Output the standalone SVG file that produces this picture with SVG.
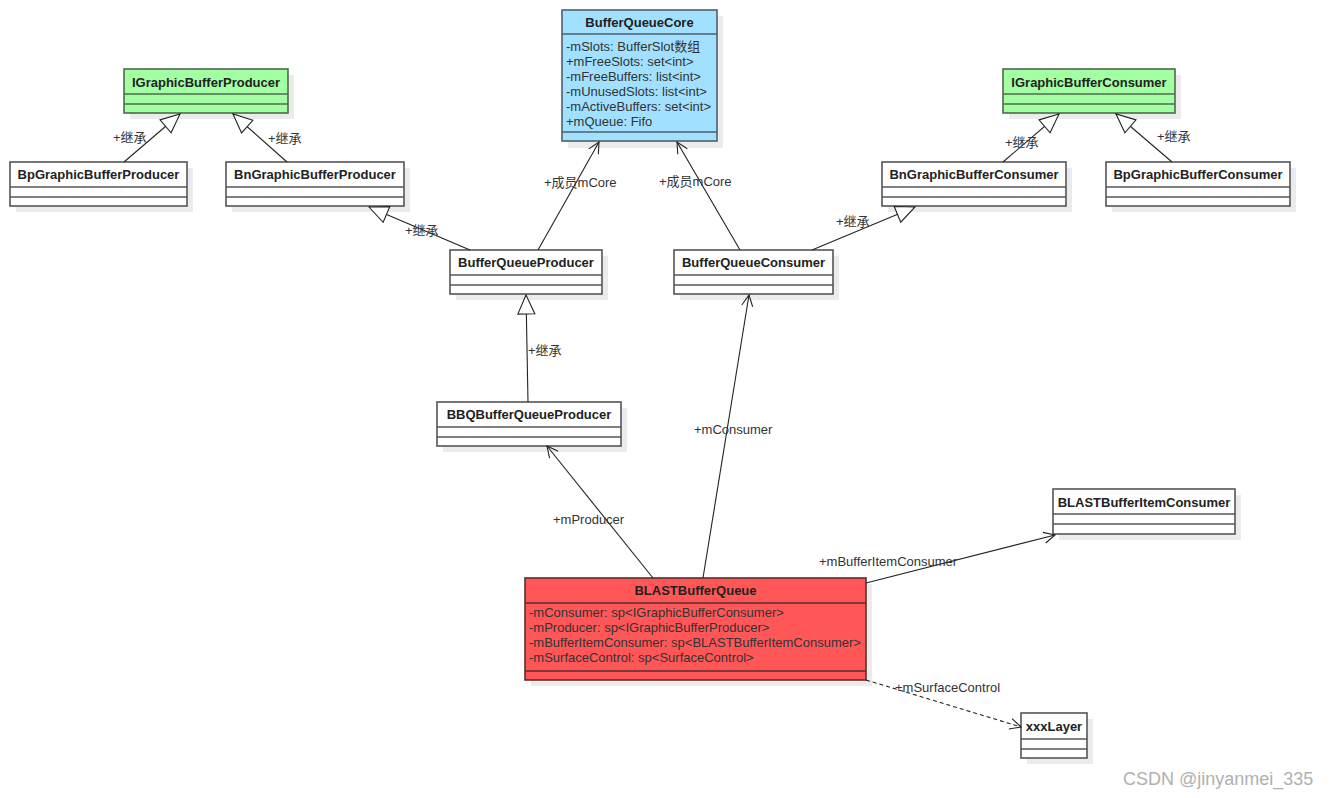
<svg xmlns="http://www.w3.org/2000/svg" width="1330" height="798" viewBox="0 0 1330 798">
<style>
text{font-family:"Liberation Sans","Noto Sans CJK SC",sans-serif;}
.sh{fill:#ebebeb;}
.box{fill:#ffffff;stroke:#555;stroke-width:1.6;}
.div{stroke:#555;stroke-width:1.6;}
.t{font-size:13px;font-weight:bold;fill:#222;text-anchor:middle;}
.a{font-size:13px;fill:#333;}
.lbl{font-size:13px;fill:#333;}
.ln{fill:none;stroke:#222;stroke-width:1.1;}
.dash{stroke-dasharray:4,3;}
.tri{fill:#fff;stroke:#222;stroke-width:1.1;}
.arr{fill:none;stroke:#222;stroke-width:1.1;}
</style>
<defs>
<path id="triHead" d="M0,0 L-19,-8.5 L-19,8.5 Z"/>
<path id="openHead" d="M-11,-5.5 L0,0 L-11,5.5"/>
</defs>
<g id="BufferQueueCore">
<rect class="sh" x="568" y="16" width="155" height="132"/>
<rect class="box" x="562" y="10" width="155" height="131" style="fill:#a2e0ff;stroke:#4f5f6a"/>
<line class="div" x1="562" y1="34" x2="717" y2="34" style="stroke:#4f5f6a"/>
<line class="div" x1="562" y1="132" x2="717" y2="132" style="stroke:#4f5f6a"/>
<text class="t" x="639.5" y="27">BufferQueueCore</text>
<text class="a" x="566" y="51">-mSlots: BufferSlot数组</text>
<text class="a" x="566" y="66">+mFreeSlots: set&lt;int&gt;</text>
<text class="a" x="566" y="81">-mFreeBuffers: list&lt;int&gt;</text>
<text class="a" x="566" y="96">-mUnusedSlots: list&lt;int&gt;</text>
<text class="a" x="566" y="111">-mActiveBuffers: set&lt;int&gt;</text>
<text class="a" x="566" y="126">+mQueue: Fifo</text>
</g>
<g id="IGraphicBufferProducer">
<rect class="sh" x="130" y="75" width="164" height="44"/>
<rect class="box" x="124" y="69" width="164" height="44" style="fill:#a2ffa2;stroke:#4f6a4f"/>
<line class="div" x1="124" y1="94" x2="288" y2="94" style="stroke:#4f6a4f"/>
<line class="div" x1="124" y1="104" x2="288" y2="104" style="stroke:#4f6a4f"/>
<text class="t" x="206" y="87">IGraphicBufferProducer</text>
</g>
<g id="IGraphicBufferConsumer">
<rect class="sh" x="1009" y="75" width="172" height="44"/>
<rect class="box" x="1003" y="69" width="172" height="44" style="fill:#a2ffa2;stroke:#4f6a4f"/>
<line class="div" x1="1003" y1="94" x2="1175" y2="94" style="stroke:#4f6a4f"/>
<line class="div" x1="1003" y1="104" x2="1175" y2="104" style="stroke:#4f6a4f"/>
<text class="t" x="1089" y="87">IGraphicBufferConsumer</text>
</g>
<g id="BpGraphicBufferProducer">
<rect class="sh" x="16" y="168" width="177" height="44"/>
<rect class="box" x="10" y="162" width="177" height="44"/>
<line class="div" x1="10" y1="187" x2="187" y2="187"/>
<line class="div" x1="10" y1="197" x2="187" y2="197"/>
<text class="t" x="98.5" y="179">BpGraphicBufferProducer</text>
</g>
<g id="BnGraphicBufferProducer">
<rect class="sh" x="232" y="168" width="178" height="44"/>
<rect class="box" x="226" y="162" width="178" height="44"/>
<line class="div" x1="226" y1="187" x2="404" y2="187"/>
<line class="div" x1="226" y1="197" x2="404" y2="197"/>
<text class="t" x="315" y="179">BnGraphicBufferProducer</text>
</g>
<g id="BnGraphicBufferConsumer">
<rect class="sh" x="888" y="168" width="184" height="44"/>
<rect class="box" x="882" y="162" width="184" height="44"/>
<line class="div" x1="882" y1="187" x2="1066" y2="187"/>
<line class="div" x1="882" y1="197" x2="1066" y2="197"/>
<text class="t" x="974" y="179">BnGraphicBufferConsumer</text>
</g>
<g id="BpGraphicBufferConsumer">
<rect class="sh" x="1112" y="168" width="184" height="44"/>
<rect class="box" x="1106" y="162" width="184" height="44"/>
<line class="div" x1="1106" y1="187" x2="1290" y2="187"/>
<line class="div" x1="1106" y1="197" x2="1290" y2="197"/>
<text class="t" x="1198" y="179">BpGraphicBufferConsumer</text>
</g>
<g id="BufferQueueProducer">
<rect class="sh" x="456" y="256" width="152" height="44"/>
<rect class="box" x="450" y="250" width="152" height="44"/>
<line class="div" x1="450" y1="275" x2="602" y2="275"/>
<line class="div" x1="450" y1="285" x2="602" y2="285"/>
<text class="t" x="526" y="267">BufferQueueProducer</text>
</g>
<g id="BufferQueueConsumer">
<rect class="sh" x="680" y="256" width="159" height="44"/>
<rect class="box" x="674" y="250" width="159" height="44"/>
<line class="div" x1="674" y1="275" x2="833" y2="275"/>
<line class="div" x1="674" y1="285" x2="833" y2="285"/>
<text class="t" x="753.5" y="267">BufferQueueConsumer</text>
</g>
<g id="BBQBufferQueueProducer">
<rect class="sh" x="443" y="408" width="184" height="44"/>
<rect class="box" x="437" y="402" width="184" height="44"/>
<line class="div" x1="437" y1="427" x2="621" y2="427"/>
<line class="div" x1="437" y1="437" x2="621" y2="437"/>
<text class="t" x="529" y="419">BBQBufferQueueProducer</text>
</g>
<g id="BLASTBufferItemConsumer">
<rect class="sh" x="1059" y="495" width="182" height="45"/>
<rect class="box" x="1053" y="489" width="182" height="45"/>
<line class="div" x1="1053" y1="514" x2="1235" y2="514"/>
<line class="div" x1="1053" y1="524" x2="1235" y2="524"/>
<text class="t" x="1144" y="507">BLASTBufferItemConsumer</text>
</g>
<g id="BLASTBufferQueue">
<rect class="sh" x="531" y="584" width="341" height="102"/>
<rect class="box" x="525" y="578" width="341" height="102" style="fill:#ff5757;stroke:#5a2e2e"/>
<line class="div" x1="525" y1="603" x2="866" y2="603" style="stroke:#5a2e2e"/>
<line class="div" x1="525" y1="671" x2="866" y2="671" style="stroke:#5a2e2e"/>
<text class="t" x="695.5" y="595">BLASTBufferQueue</text>
<text class="a" x="529" y="617">-mConsumer: sp&lt;IGraphicBufferConsumer&gt;</text>
<text class="a" x="529" y="632">-mProducer: sp&lt;IGraphicBufferProducer&gt;</text>
<text class="a" x="529" y="647">-mBufferItemConsumer: sp&lt;BLASTBufferItemConsumer&gt;</text>
<text class="a" x="529" y="662">-mSurfaceControl: sp&lt;SurfaceControl&gt;</text>
</g>
<g id="xxxLayer">
<rect class="sh" x="1027" y="719" width="66" height="45"/>
<rect class="box" x="1021" y="713" width="66" height="45"/>
<line class="div" x1="1021" y1="739" x2="1087" y2="739"/>
<line class="div" x1="1021" y1="749" x2="1087" y2="749"/>
<text class="t" x="1054" y="731">xxxLayer</text>
</g>
<g id="connectors">
<line class="ln" x1="124" y1="162" x2="180" y2="114"/>
<use href="#triHead" class="tri" transform="translate(180,114) rotate(-40.6)"/>
<line class="ln" x1="287" y1="162" x2="233" y2="114"/>
<use href="#triHead" class="tri" transform="translate(233,114) rotate(-138.37)"/>
<line class="ln" x1="1003" y1="162" x2="1059" y2="114"/>
<use href="#triHead" class="tri" transform="translate(1059,114) rotate(-40.6)"/>
<line class="ln" x1="1172" y1="162" x2="1116" y2="114"/>
<use href="#triHead" class="tri" transform="translate(1116,114) rotate(-139.4)"/>
<line class="ln" x1="470" y1="250" x2="369" y2="207"/>
<use href="#triHead" class="tri" transform="translate(369,207) rotate(-156.94)"/>
<line class="ln" x1="538" y1="250" x2="599" y2="142"/>
<use href="#openHead" class="arr" transform="translate(599,142) rotate(-60.54)"/>
<line class="ln" x1="740" y1="250" x2="677" y2="142"/>
<use href="#openHead" class="arr" transform="translate(677,142) rotate(-120.26)"/>
<line class="ln" x1="812" y1="250" x2="915" y2="207"/>
<use href="#triHead" class="tri" transform="translate(915,207) rotate(-22.66)"/>
<line class="ln" x1="528" y1="402" x2="526" y2="295"/>
<use href="#triHead" class="tri" transform="translate(526,295) rotate(-91.07)"/>
<line class="ln" x1="653" y1="578" x2="547" y2="446"/>
<use href="#openHead" class="arr" transform="translate(547,446) rotate(-128.77)"/>
<line class="ln" x1="703" y1="578" x2="749" y2="295"/>
<use href="#openHead" class="arr" transform="translate(749,295) rotate(-80.77)"/>
<line class="ln" x1="866" y1="583" x2="1055" y2="535"/>
<use href="#openHead" class="arr" transform="translate(1055,535) rotate(-14.25)"/>
<line class="ln dash" x1="866" y1="680" x2="1021" y2="727"/>
<use href="#openHead" class="arr" transform="translate(1021,727) rotate(16.87)"/>
<text class="lbl" x="113" y="142">+继承</text>
<text class="lbl" x="268" y="143">+继承</text>
<text class="lbl" x="1005" y="147">+继承</text>
<text class="lbl" x="1157" y="141">+继承</text>
<text class="lbl" x="405" y="235">+继承</text>
<text class="lbl" x="544" y="187">+成员mCore</text>
<text class="lbl" x="659" y="186">+成员mCore</text>
<text class="lbl" x="836" y="226">+继承</text>
<text class="lbl" x="528" y="355">+继承</text>
<text class="lbl" x="553" y="524">+mProducer</text>
<text class="lbl" x="694" y="434">+mConsumer</text>
<text class="lbl" x="819" y="566">+mBufferItemConsumer</text>
<text class="lbl" x="895" y="692">+mSurfaceControl</text>
</g>
<text x="1123" y="785" style="font-size:18px;fill:#b0b0b0">CSDN @jinyanmei_335</text>
</svg>
